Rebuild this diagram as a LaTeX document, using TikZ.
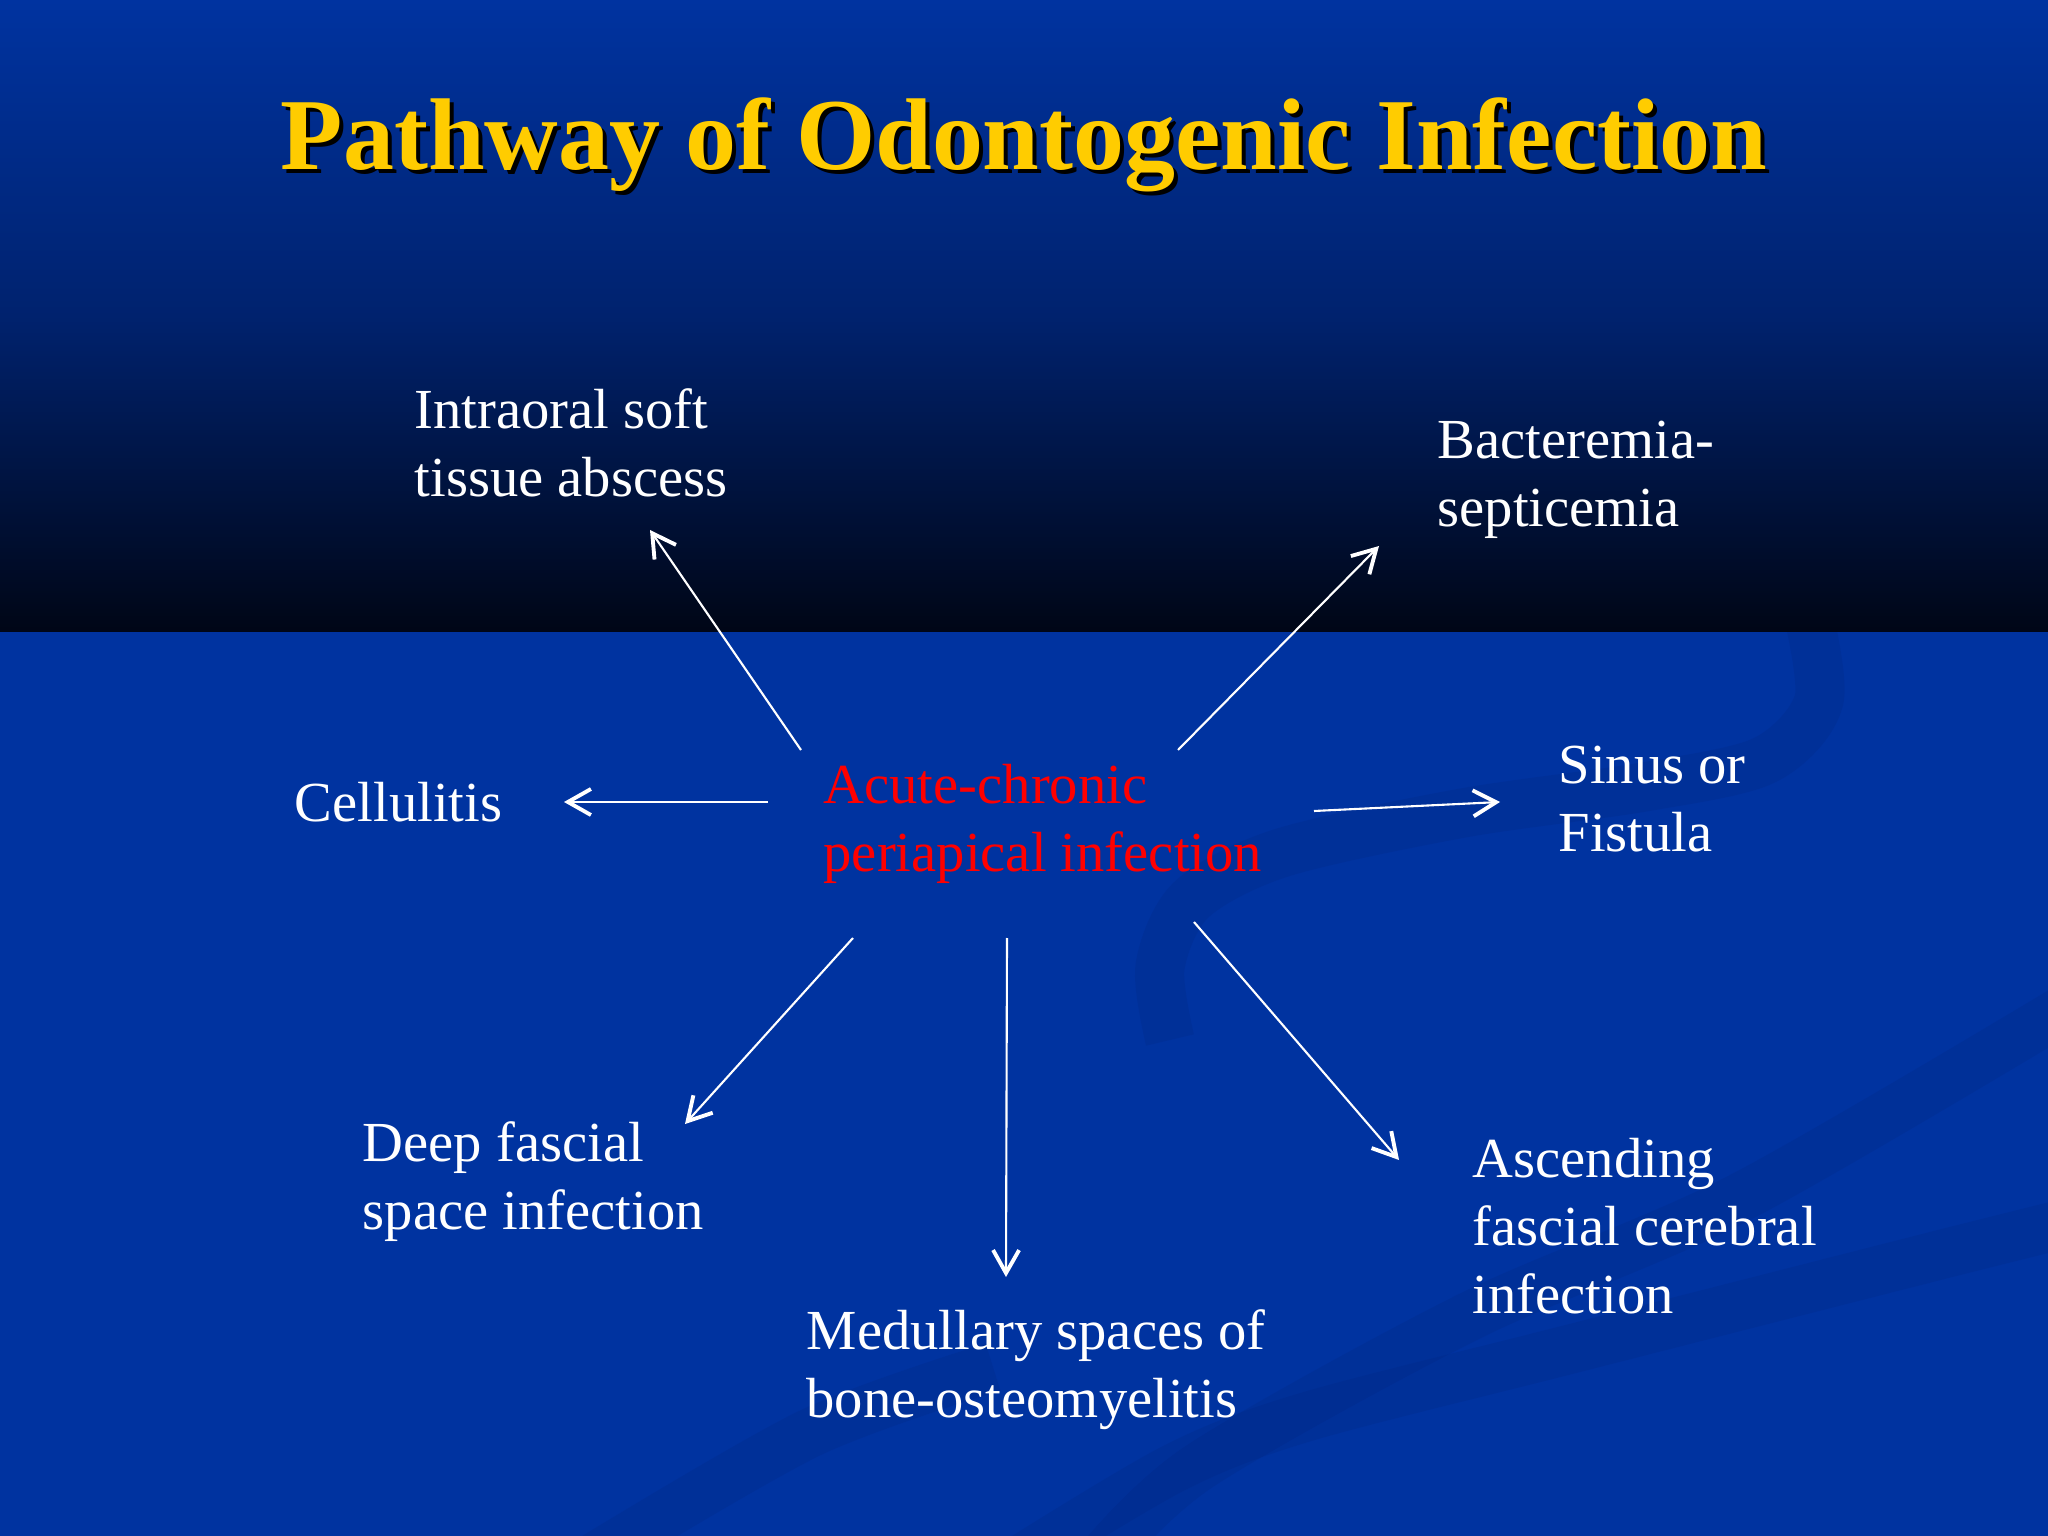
\documentclass[tikz,border=0pt]{standalone}
\usepackage{fontspec}
\setmainfont{Liberation Serif}
\usetikzlibrary{arrows.meta}

\definecolor{slideblue}{RGB}{0,51,160}
\definecolor{slidemid}{RGB}{0,34,110}
\definecolor{slidedark}{RGB}{0,6,22}
\definecolor{swooshblue}{RGB}{0,30,110}
\definecolor{titlegold}{RGB}{255,204,0}

\begin{document}
\begin{tikzpicture}[every node/.style={font=\fontsize{16.1}{19.4}\selectfont, text=white, inner sep=0pt, align=left, anchor=north west},
	>={Straight Barb[length=2.3mm, width=2.6mm, line width=1.1pt]},
	flow/.style={->, white, line width=0.6pt},
	swoosh/.style={swooshblue, opacity=0.14, line width=14pt}]
	\useasboundingbox (0,0) rectangle (20.48,-15.36);
	% slide background
	\shade[top color=slideblue, bottom color=slidedark, middle color=slidemid] (0,0) rectangle (20.48,-6.32);
	\fill[slideblue] (0,-6.32) rectangle (20.48,-15.36);
	\begin{scope}
		\clip (0,-6.32) rectangle (20.48,-15.36);
		\draw[swoosh] plot[smooth] coordinates {(18.05,-6.00) (18.19,-7.00) (17.65,-7.60) (16.44,-7.87) (14.63,-8.13) (12.81,-8.53) (11.91,-9.00) (11.60,-9.67) (11.70,-10.40)};
		\draw[swoosh] plot[smooth] coordinates {(11.00,-15.60) (12.00,-14.66) (14.70,-13.16) (17.41,-11.97) (20.80,-10.00)};
		\draw[swoosh] plot[smooth] coordinates {(5.90,-15.60) (8.10,-14.33) (9.93,-13.67)};
		\draw[swoosh] plot[smooth] coordinates {(10.20,-15.60) (11.76,-14.67) (13.06,-14.17) (15.67,-13.50) (19.59,-12.50) (20.80,-12.20)};
	\end{scope}

	\node[font=\bfseries\fontsize{29}{34}\selectfont, text=black, anchor=base] (shadow) at (10.28,-1.74) {Pathway of Odontogenic Infection};
	\node[font=\bfseries\fontsize{29}{34}\selectfont, text=titlegold, anchor=base] (title) at (10.24,-1.70) {Pathway of Odontogenic Infection};

	\node[text=red] (acute) at (8.23,-7.635) {Acute-chronic\\periapical infection};
	\node (intra) at (4.14,-3.875) {Intraoral soft\\tissue abscess};
	\node (bact) at (14.37,-4.205) {Bacteremia-\\septicemia};
	\node (cell) at (2.94,-7.815) {Cellulitis};
	\node (sinus) at (15.58,-7.455) {Sinus or\\Fistula};
	\node (deep) at (3.62,-11.205) {Deep fascial\\space infection};
	\node (medul) at (8.06,-13.085) {Medullary spaces of\\bone-osteomyelitis};
	\node (ascend) at (14.72,-11.375) {Ascending\\fascial cerebral\\infection};

	\coordinate (intra-from) at (8.01,-7.50);
	\coordinate (intra-to) at (6.50,-5.30);
	\coordinate (bact-from) at (11.78,-7.50);
	\coordinate (bact-to) at (13.79,-5.46);
	\coordinate (cell-from) at (7.68,-8.02);
	\coordinate (cell-to) at (5.64,-8.02);
	\coordinate (sinus-from) at (13.14,-8.11);
	\coordinate (sinus-to) at (15.00,-8.02);
	\coordinate (ascend-from) at (11.94,-9.22);
	\coordinate (ascend-to) at (13.99,-11.60);
	\coordinate (medul-from) at (10.07,-9.38);
	\coordinate (medul-to) at (10.06,-12.77);
	\coordinate (deep-from) at (8.53,-9.38);
	\coordinate (deep-to) at (6.85,-11.24);

	\draw[flow] (intra-from) -- (intra-to);
	\draw[flow] (bact-from) -- (bact-to);
	\draw[flow] (cell-from) -- (cell-to);
	\draw[flow] (sinus-from) -- (sinus-to);
	\draw[flow] (ascend-from) -- (ascend-to);
	\draw[flow] (medul-from) -- (medul-to);
	\draw[flow] (deep-from) -- (deep-to);
\end{tikzpicture}
\end{document}
